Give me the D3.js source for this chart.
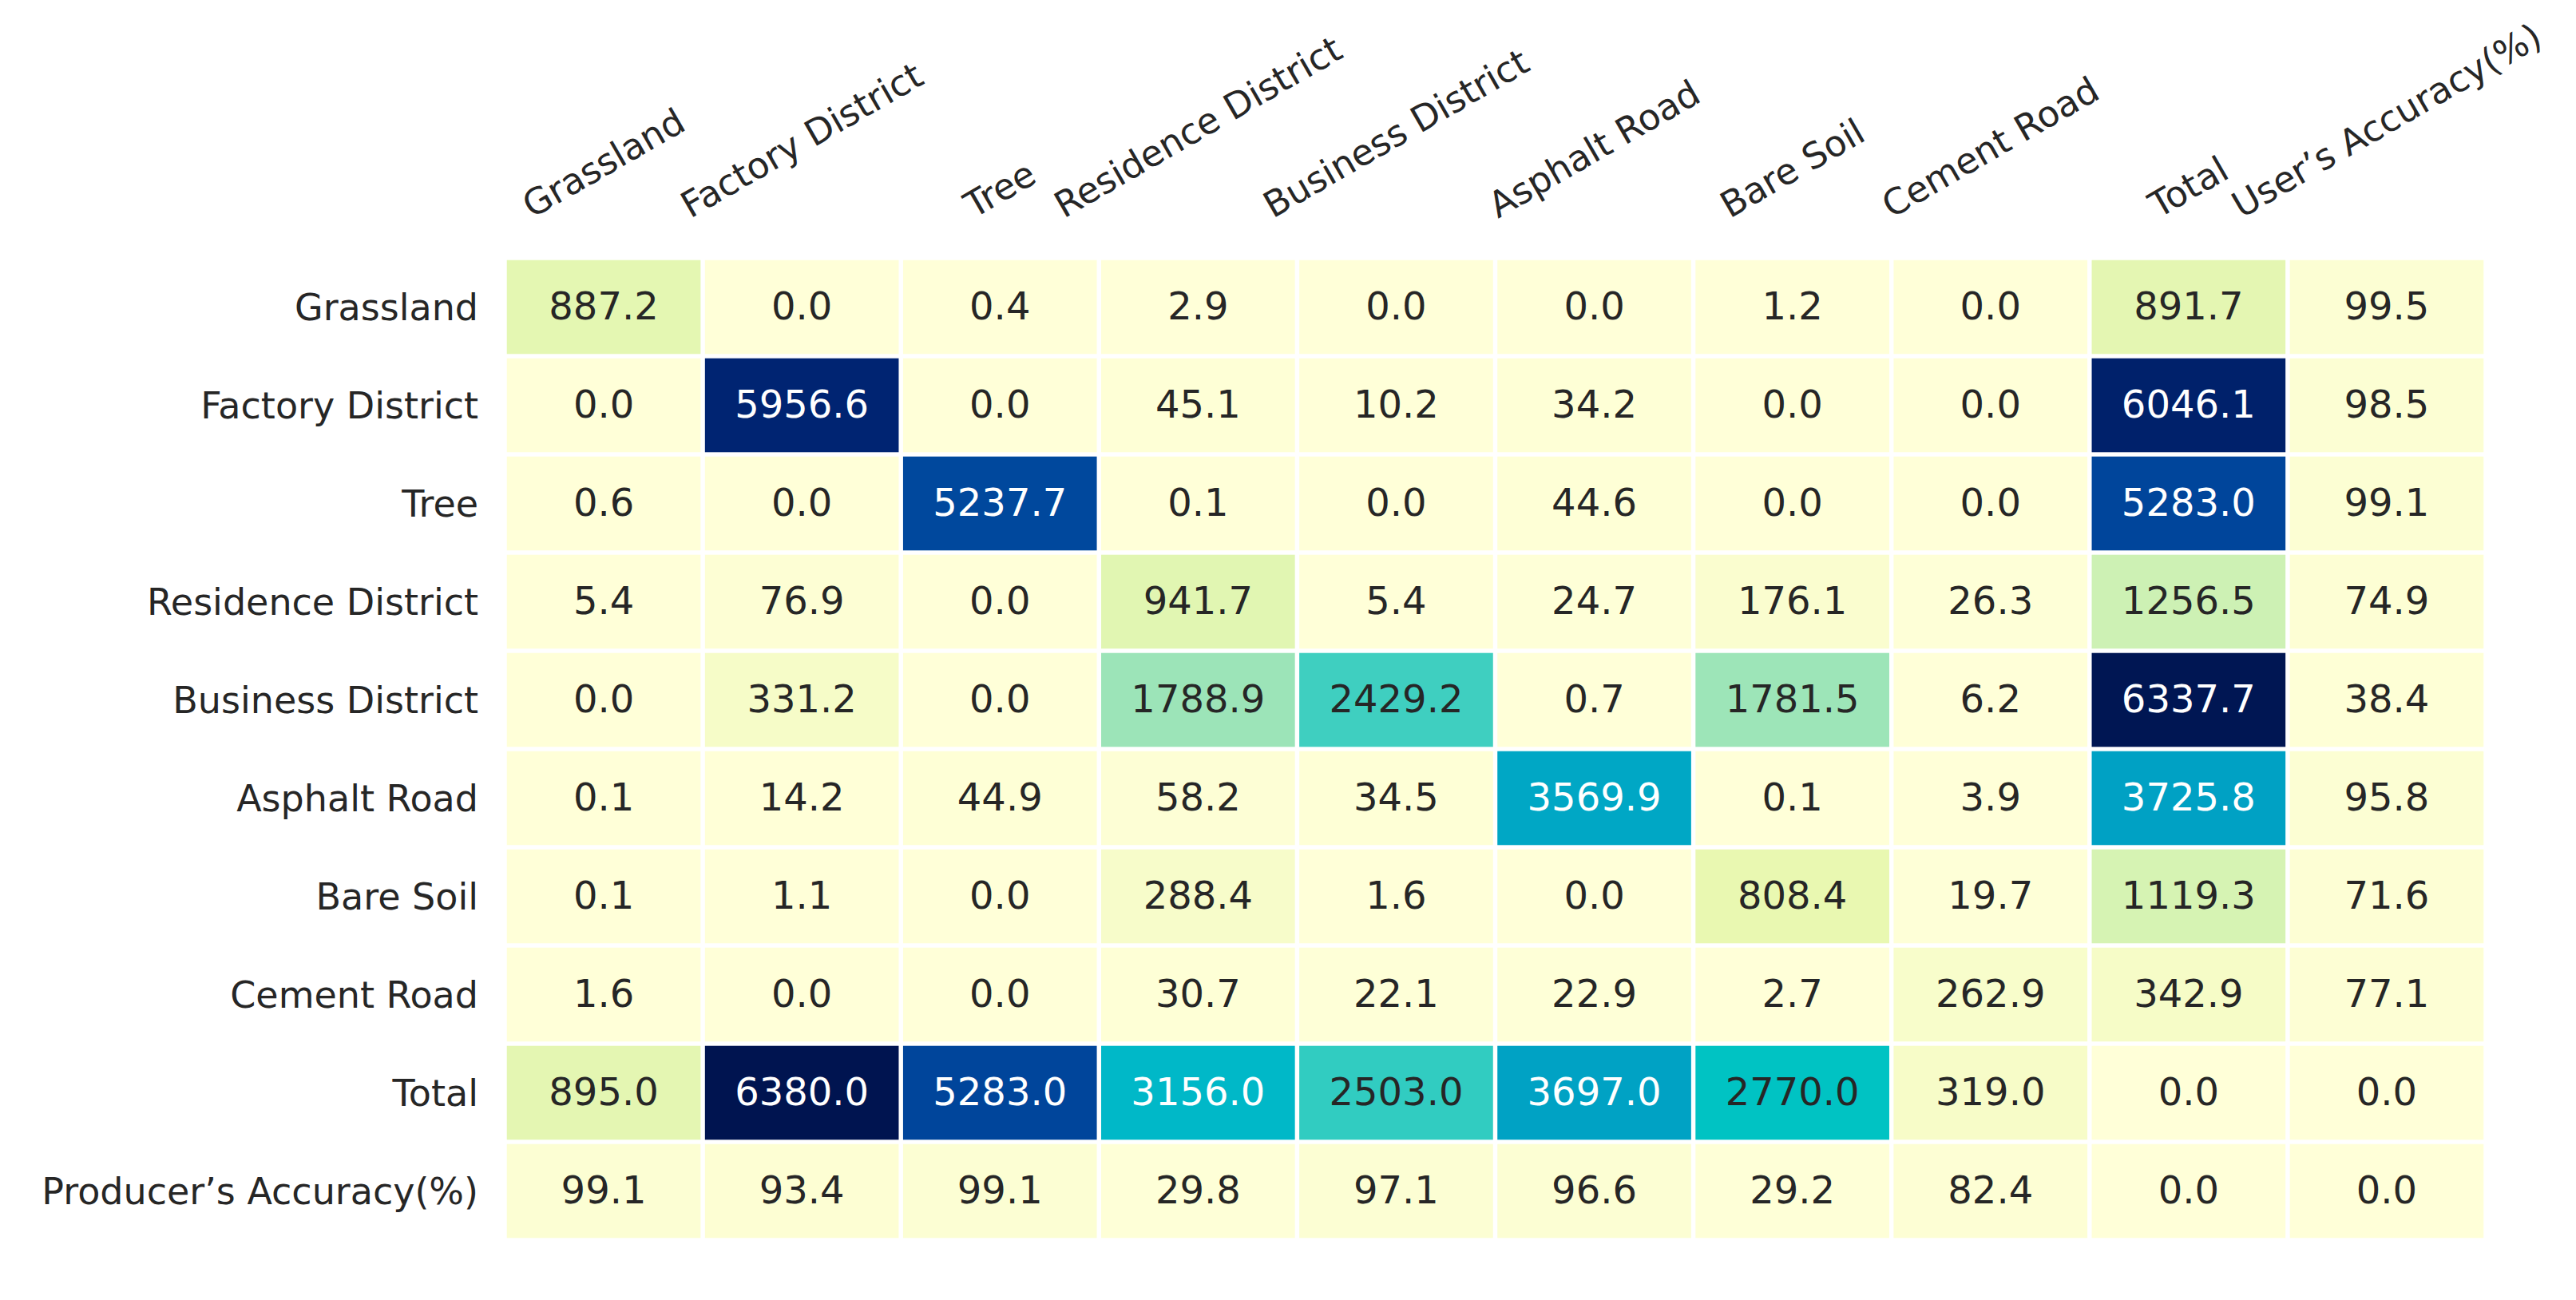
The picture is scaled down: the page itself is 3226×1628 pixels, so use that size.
<!DOCTYPE html>
<html>
<head>
<meta charset="utf-8">
<script src="https://cdn.jsdelivr.net/npm/d3@7"></script>
<style>
  body { margin: 0; background: #fff; }
  #chart-area { width: 3226px; height: 1628px; }
</style>
</head>
<body>
<div id="chart-area"></div>
<script>
const classes = ['Grassland', 'Factory District', 'Tree', 'Residence District',
  'Business District', 'Asphalt Road', 'Bare Soil', 'Cement Road'];
const colLabels = classes.concat(['Total', 'User\u2019s Accuracy(%)']);
const rowLabels = classes.concat(['Total', 'Producer\u2019s Accuracy(%)']);

// confusion matrix rows (reference class per row)
const confusion = [
  [887.2, 0.0, 0.4, 2.9, 0.0, 0.0, 1.2, 0.0],
  [0.0, 5956.6, 0.0, 45.1, 10.2, 34.2, 0.0, 0.0],
  [0.6, 0.0, 5237.7, 0.1, 0.0, 44.6, 0.0, 0.0],
  [5.4, 76.9, 0.0, 941.7, 5.4, 24.7, 176.1, 26.3],
  [0.0, 331.2, 0.0, 1788.9, 2429.2, 0.7, 1781.5, 6.2],
  [0.1, 14.2, 44.9, 58.2, 34.5, 3569.9, 0.1, 3.9],
  [0.1, 1.1, 0.0, 288.4, 1.6, 0.0, 808.4, 19.7],
  [1.6, 0.0, 0.0, 30.7, 22.1, 22.9, 2.7, 262.9]
];
const rowTotal = [891.7, 6046.1, 5283.0, 1256.5, 6337.7, 3725.8, 1119.3, 342.9];
const userAcc = [99.5, 98.5, 99.1, 74.9, 38.4, 95.8, 71.6, 77.1];
const colTotal = [895.0, 6380.0, 5283.0, 3156.0, 2503.0, 3697.0, 2770.0, 319.0, 0.0, 0.0];
const producerAcc = [99.1, 93.4, 99.1, 29.8, 97.1, 96.6, 29.2, 82.4, 0.0, 0.0];

// build the full table
const table = confusion.map((r, i) => r.concat([rowTotal[i], userAcc[i]]));
table.push(colTotal);
table.push(producerAcc);

const cells = [];
table.forEach((r, i) => r.forEach((v, j) => cells.push({row: rowLabels[i], col: colLabels[j], value: v})));

const W = 3226, H = 1628;
const grid = {left: 632, right: 3113, top: 323, bottom: 1553};
const font = 'DejaVu Sans';
const textDark = '#262626';

const svg = d3.select('#chart-area').append('svg').attr('width', W).attr('height', H);

const x = d3.scaleBand().domain(colLabels).range([grid.left, grid.right]).paddingInner(0.022).paddingOuter(0.011);
const y = d3.scaleBand().domain(rowLabels).range([grid.top, grid.bottom]).paddingInner(0.044).paddingOuter(0.022);

const vmax = d3.max(cells, d => d.value);
const stops = [0, 0.125, 0.25, 0.38, 0.434, 0.5, 0.62, 0.75, 0.875, 1];
const stopColors = ['#ffffd8', '#eaf8b1', '#b8ebb6', '#40cfc0', '#00c3c3', '#00b7c8', '#0097c2', '#0063ae', '#003390', '#001450'];
const color = d3.scaleLinear().domain(stops.map(s => s * vmax)).range(stopColors).interpolate(d3.interpolateRgb);

const luminance = c => {
  const rgb = d3.rgb(c);
  const lin = v => { v /= 255; return v <= 0.03928 ? v / 12.92 : Math.pow((v + 0.055) / 1.055, 2.4); };
  return 0.2126 * lin(rgb.r) + 0.7152 * lin(rgb.g) + 0.0722 * lin(rgb.b);
};

const g = svg.append('g');
g.selectAll('.cell')
  .data(cells)
.enter().append('rect')
  .attr('class', 'cell')
  .attr('x', d => x(d.col))
  .attr('y', d => y(d.row))
  .attr('width', x.bandwidth())
  .attr('height', y.bandwidth())
  .attr('fill', d => color(d.value));

g.selectAll('.annot')
  .data(cells)
.enter().append('text')
  .attr('class', 'annot')
  .attr('x', d => x(d.col) + x.bandwidth() / 2)
  .attr('y', d => y(d.row) + y.bandwidth() / 2 - 2)
  .attr('text-anchor', 'middle')
  .attr('dominant-baseline', 'central')
  .attr('font-family', font)
  .attr('font-size', 48)
  .attr('fill', d => luminance(color(d.value)) > 0.408 ? textDark : '#ffffff')
  .text(d => d3.format('.1f')(d.value));

// y axis labels
const yAxis = svg.append('g')
  .attr('transform', `translate(${grid.left}, 0)`)
  .call(d3.axisLeft(y).tickSize(0).tickPadding(33));
yAxis.select('.domain').remove();
yAxis.selectAll('text')
  .attr('font-family', font)
  .attr('font-size', 46)
  .attr('fill', textDark)
  .attr('dy', null)
  .attr('dominant-baseline', 'central');

// x axis labels on top, rotated 30 degrees, bbox centred on the column
const angle = 30 * Math.PI / 180;
const labelBottom = -41;
const xAxis = svg.append('g')
  .attr('transform', `translate(0, ${grid.top})`)
  .call(d3.axisTop(x).tickSize(0));
xAxis.select('.domain').remove();
xAxis.selectAll('text')
  .attr('font-family', font)
  .attr('font-size', 45)
  .attr('fill', textDark)
  .attr('text-anchor', 'middle')
  .attr('dominant-baseline', 'central')
  .attr('y', 0)
  .attr('dy', null)
  .attr('transform', function() {
    const L = this.getComputedTextLength();
    const h = 45 * 1.1;
    const half = (L * Math.sin(angle) + h * Math.cos(angle)) / 2;
    return `translate(0, ${labelBottom - half}) rotate(-30)`;
  });
</script>
</body>
</html>
